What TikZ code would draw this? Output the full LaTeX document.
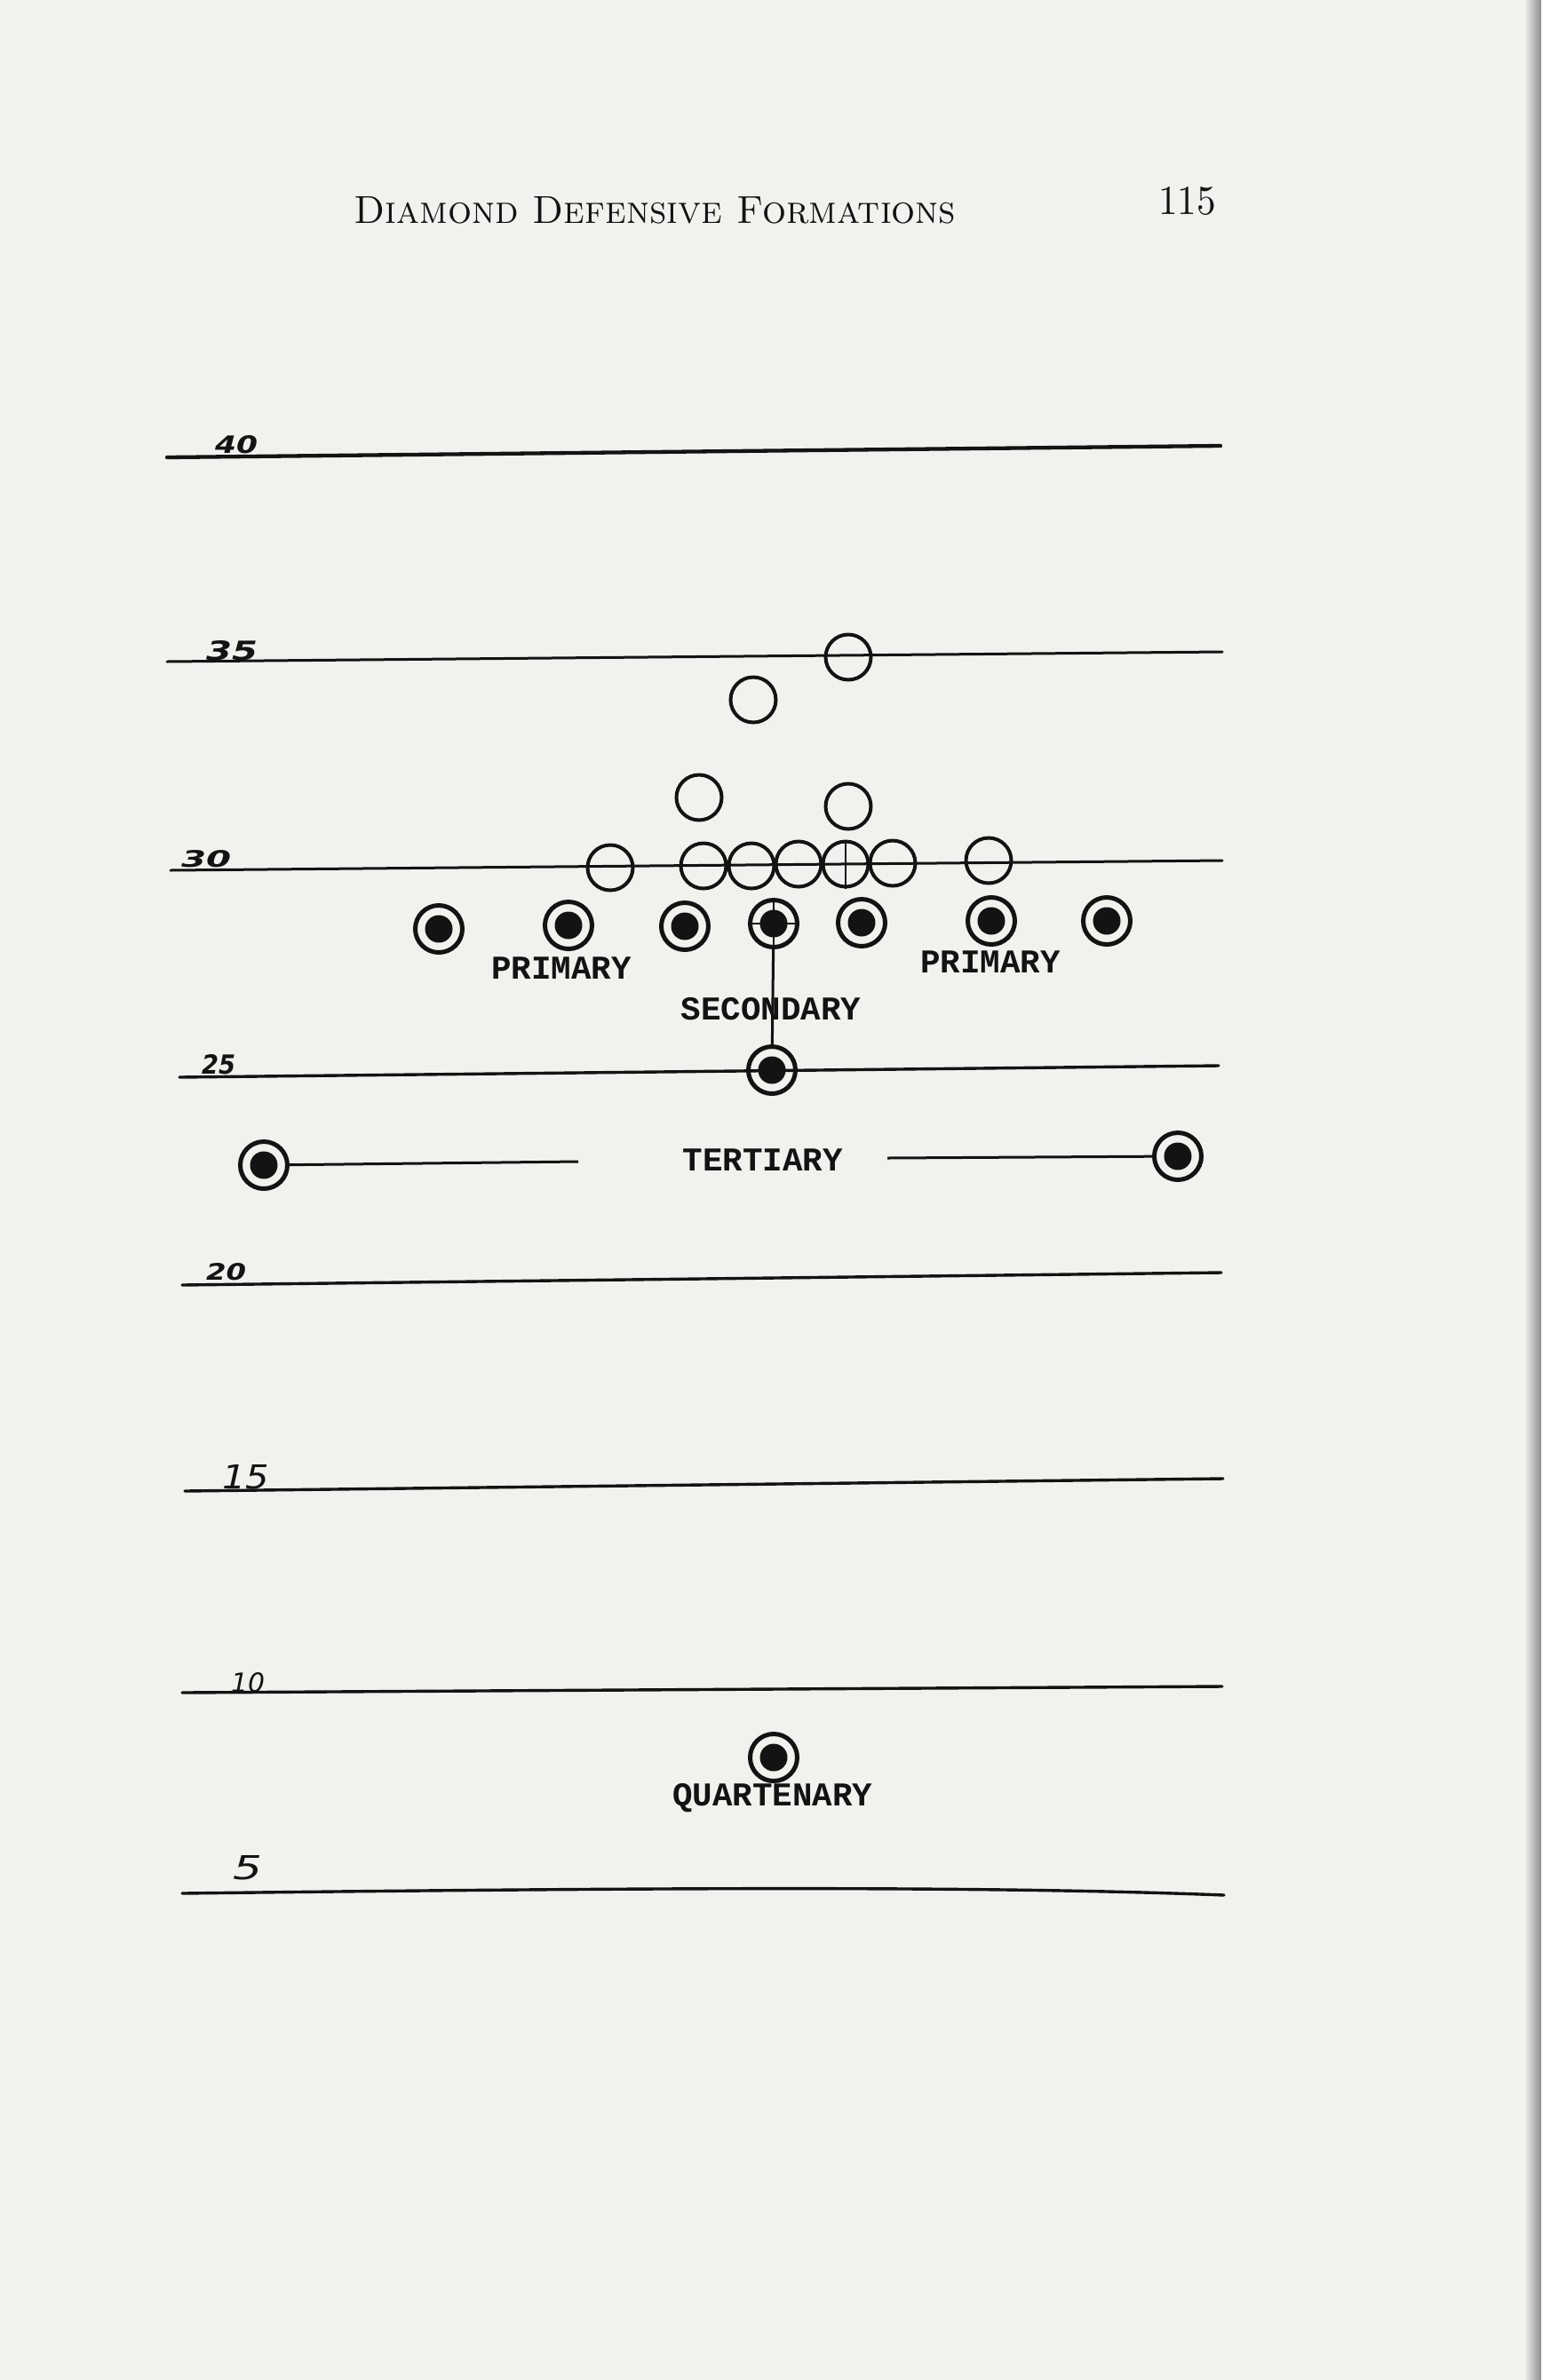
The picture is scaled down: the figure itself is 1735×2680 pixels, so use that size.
\documentclass[tikz,border=0pt]{standalone}
\usepackage{fontspec}
\newfontfamily\tw{Liberation Mono}
\newfontfamily\hand{DejaVu Sans}
\definecolor{paper}{RGB}{242,241,238}
\definecolor{ink}{RGB}{20,18,18}
\tikzset{
  yard/.style={draw=ink, line width=3.4pt, line cap=round},
  offp/.style={circle, draw=ink, line width=4pt, minimum size=51pt, inner sep=0pt},
  defp/.style={circle, draw=ink, line width=5pt, minimum size=53pt, inner sep=0pt,
    path picture={\fill[ink] (path picture bounding box.center) circle (15.5pt);}},
  lbl/.style={font=\tw\bfseries\fontsize{37.5}{40}\selectfont, text=ink, inner sep=0pt, anchor=base},
  num/.style={inner sep=0pt, anchor=south west, text=ink},
  link/.style={draw=ink, line width=3pt},
  cross/.style={draw=ink, line width=2.8pt},
}
\begin{document}
\begin{tikzpicture}[x=1pt,y=-1pt]
\useasboundingbox (0,0) rectangle (1735,2680);
\fill[paper] (0,0) rectangle (1735,2680);
\shade[left color=paper, right color=black!45] (1716,0) rectangle (1735,2680);

% header
\node[anchor=south west, inner sep=0pt, text=ink] (title) at (398,252)
  {\resizebox{678pt}{30pt}{\textsc{Diamond Defensive Formations}}};
\node[anchor=south west, inner sep=0pt, text=ink] (pageno) at (1304,243)
  {\resizebox{65pt}{31pt}{115}};

% yard lines
\coordinate (y40a) at (188,515); \coordinate (y40b) at (1374,502);
\coordinate (y35a) at (188,745); \coordinate (y35b) at (1376,734);
\coordinate (y30a) at (192,980); \coordinate (y30b) at (1376,969);
\coordinate (y25a) at (202,1213); \coordinate (y25b) at (1372,1200);
\coordinate (y20a) at (205,1447); \coordinate (y20b) at (1375,1433);
\coordinate (y15a) at (208,1679); \coordinate (y15b) at (1377,1665);
\coordinate (y10a) at (205,1906); \coordinate (y10b) at (1376,1899);
\coordinate (y05a) at (205,2132); \coordinate (y05b) at (1378,2134);
\draw[yard, line width=4.3pt] (y40a) -- (y40b);
\draw[yard, line width=3pt] (y35a) -- (y35b);
\draw[yard, line width=3pt] (y30a) -- (y30b);
\draw[yard] (y25a) -- (y25b);
\draw[yard] (y20a) -- (y20b);
\draw[yard] (y15a) -- (y15b);
\draw[yard] (y10a) -- (y10b);
\draw[yard] (y05a) .. controls (700,2126) and (1100,2123) .. (y05b);

% yard numbers
\node[num] (n40) at (242,511) {\resizebox{48pt}{20pt}{\hand\bfseries\itshape 40}};
\node[num] (n35) at (232,744) {\resizebox{58pt}{22pt}{\hand\bfseries\itshape 35}};
\node[num] (n30) at (204,977) {\resizebox{56pt}{19pt}{\hand\bfseries\itshape 30}};
\node[num] (n25) at (227,1210) {\resizebox{38pt}{22pt}{\hand\bfseries\itshape 25}};
\node[num] (n20) at (232,1442) {\resizebox{45pt}{19pt}{\hand\bfseries\itshape 20}};
\node[num] (n15) at (250,1677) {\resizebox{53pt}{27pt}{\hand\itshape 15}};
\node[num] (n10) at (260,1906) {\resizebox{38pt}{22pt}{\hand\itshape 10}};
\node[num] (n05) at (262,2117) {\resizebox{33pt}{27pt}{\hand\itshape 5}};

% offence
\node[offp] (o1) at (955,740) {};
\node[offp] (o2) at (848,788) {};
\node[offp] (o3) at (787,898) {};
\node[offp] (o4) at (955,908) {};
\node[offp] (c1) at (687,977) {};
\node[offp] (c2) at (792,975) {};
\node[offp] (c3) at (846,975) {};
\node[offp] (c4) at (899,973) {};
\node[offp] (c5) at (952,973) {};
\node[offp] (c6) at (1005,972) {};
\node[offp] (c7) at (1113,969) {};
\draw[cross] (c5.north) -- (c5.south);

% defence
\node[defp] (d1) at (494,1046) {};
\node[defp] (d2) at (640,1042) {};
\node[defp] (d3) at (771,1043) {};
\node[defp] (d4) at (871,1040) {};
\node[defp] (d5) at (970,1039) {};
\node[defp] (d6) at (1116,1037) {};
\node[defp] (d7) at (1246,1037) {};
\draw[cross] (d4.north) -- (d4.south);
\draw[cross] (d4.west) -- (d4.east);

\node[defp] (s) at (869,1205) {};
\draw[link] (d4) -- (s);

\node[defp] (t1) at (297,1312) {};
\node[defp] (t2) at (1326,1302) {};
\coordinate (t1e) at (651,1308);
\coordinate (t2e) at (999,1304);
\draw[link] (t1) -- (t1e);
\draw[link] (t2e) -- (t2);

\node[defp] (q) at (871,1979) {};

% labels
\node[lbl] (pl) at (632,1102) {PRIMARY};
\node[lbl] (pr) at (1115,1095) {PRIMARY};
\node[lbl] (sec) at (868,1148) {SECONDARY};
\node[lbl] (ter) at (859,1318) {TERTIARY};
\node[lbl] (qua) at (870,2033) {QUARTENARY};
\end{tikzpicture}
\end{document}
